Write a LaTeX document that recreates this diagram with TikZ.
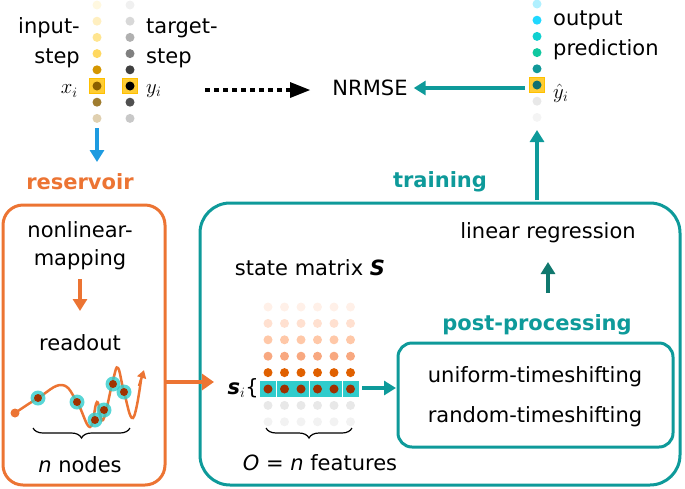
\documentclass[tikz,border=0pt]{standalone}
\usepackage{fontspec}
\setmainfont{DejaVu Sans}
\usetikzlibrary{arrows.meta,decorations.pathreplacing}
\definecolor{org}{HTML}{EC7433}
\definecolor{tl}{HTML}{0E9A9A}
\definecolor{gold}{HTML}{FFC000}
\definecolor{blu}{HTML}{1E9BE0}
\definecolor{dtl}{HTML}{10786E}
\definecolor{brn}{HTML}{A03200}
\definecolor{cyn}{HTML}{30CCCC}
\begin{document}
\begin{tikzpicture}[x=1pt,y=-1pt,
  txt/.style={font=\fontsize{21}{24}\selectfont, inner sep=0pt},
  dot/.style={circle, inner sep=0pt, minimum size=9pt},
  hl/.style={draw=gold, fill=gold!80, minimum size=15pt, inner sep=0pt},
  arr/.style={line width=4pt, -{Triangle[length=12pt,width=14pt]}}]
\useasboundingbox (0,0) rectangle (685,488);
% input column
\foreach \c [count=\i] in {FFF8E0,FFEFC0,FFE590,FFD860,D49600,8B6000,A07D30,E0D0B0}{
  \pgfmathsetmacro\yy{5+16.2*(\i-1)}
  \definecolor{cc}{HTML}{\c}
  \ifnum\i=6 \node[hl] at (97,\yy) {};\fi
  \node[dot,fill=cc] (x\i) at (97,\yy) {};}
\foreach \c [count=\i] in {F0F0F0,D8D8D8,B0B0B0,808080,404040,000000,505050,C8C8C8}{
  \pgfmathsetmacro\yy{5+16.2*(\i-1)}
  \definecolor{cc}{HTML}{\c}
  \ifnum\i=6 \node[hl] at (130,\yy) {};\fi
  \node[dot,fill=cc] (y\i) at (130,\yy) {};}
\foreach \c [count=\i] in {B0F0FF,20D8FF,10D0D0,10C8A0,109898,107070,E8E8E8,F4F4F4}{
  \pgfmathsetmacro\yy{4+16.2*(\i-1)}
  \definecolor{cc}{HTML}{\c}
  \ifnum\i=6 \node[hl] at (537,\yy) {};\fi
  \node[dot,fill=cc] (o\i) at (537,\yy) {};}
\node[txt,anchor=east] (l1) at (80,28) {input-};
\node[txt,anchor=east] (l2) at (80,58) {step};
\node[txt,anchor=east] (l3) at (78,91) {$x_i$};
\node[txt,anchor=west] (t1) at (146,28) {target-};
\node[txt,anchor=west] (t2) at (146,58) {step};
\node[txt,anchor=west] (t3) at (146,91) {$y_i$};
\node[txt,anchor=west] (p1) at (553,20) {output};
\node[txt,anchor=west] (p2) at (553,50) {prediction};
\node[txt,anchor=west] (p3) at (553,93) {$\hat{y}_i$};
\node[txt] (nrmse) at (370,88) {NRMSE};
\coordinate (d0) at (205,90);
\coordinate (d1) at (290,90);
\draw[line width=4pt, dash pattern=on 5pt off 4pt] (d0) -- (d1);
\fill (290,82) -- (310,90) -- (290,98) -- cycle;
\coordinate (o0) at (525,88);
\draw[arr,tl] (o0) -- ([xshift=6pt]nrmse.east);
% reservoir
\coordinate (b0) at (97,128);
\draw[arr,blu] (b0) -- (97,162);
\node[txt,font=\fontsize{21}{24}\selectfont\bfseries,text=org] (res) at (80,182) {reservoir};
\draw[org,line width=3pt,rounded corners=20pt] (3,205) rectangle (165,485);
\node[txt] (nl1) at (80,230) {nonlinear-};
\node[txt] (nl2) at (80,260) {mapping};
\node[txt] (ro) at (80,343) {readout};
\draw[arr,org] (80,279) -- (80,311);
\draw[org,line width=2.5pt] plot[smooth,tension=0.7] coordinates {(15,413) (38,398) (62,385) (77,402) (90,427) (97,402) (103,420) (113,380) (118,368) (124,392) (133,418) (141,380)};
\draw[org,line width=2.5pt,-{Triangle[length=8pt,width=9pt]}] (139,386) -- (144,370);
\fill[org] (15,413) circle (4.5);
\foreach \p in {(38,398),(77,402),(95,420),(104,410),(113,384),(124,392)}{
  \fill[cyn,opacity=0.8] \p circle (7.5);
  \fill[brn] \p circle (4);}
\draw[decorate,decoration={brace,mirror,amplitude=10pt},line width=1.2pt] (33,428) -- (130,428);
\node[txt] (nn) at (80,465) {\textit{n} nodes};
% training
\node[txt,font=\fontsize{21}{24}\selectfont\bfseries,text=tl] (tr) at (440,182) {training};
\draw[tl,line width=3pt,rounded corners=30pt] (200,203) rectangle (680,485);
\draw[arr,tl] (537,200) -- (537,130);
\node[txt] (lr) at (548,233) {linear regression};
\draw[arr,dtl] (548,293) -- (548,262);
\node[txt] (sm) at (310,268) {state matrix \textbf{\textit{S}}};
\node[txt,font=\fontsize{21}{24}\selectfont\bfseries,text=tl] (pp) at (537,325) {post-processing};
\draw[tl,line width=3pt,rounded corners=14pt] (398,343) rectangle (673,447);
\node[txt] (u) at (535,377) {uniform-timeshifting};
\node[txt] (r) at (535,417) {random-timeshifting};
% matrix
\foreach \c [count=\j] in {FFF0E8,FFE0D0,FFC8A8,F8A880,E06000,A03000,E8E8E8,F2F2F2}{
  \pgfmathsetmacro\yy{307+16.4*(\j-1)}
  \definecolor{cc}{HTML}{\c}
  \foreach \xx in {268,284.5,301,317.5,334,350.5}{
    \ifnum\j=6 \node[draw=cyn,fill=cyn,minimum size=15pt,inner sep=0pt] at (\xx,\yy) {};\fi
    \node[dot,fill=cc] at (\xx,\yy) {};}}
\node[txt,anchor=east] (si) at (259,388) {\textbf{\textit{s}}$_i$\{};
\draw[org,line width=4pt,-{Triangle[length=12pt,width=16pt]}] (165,382) -- (214,382);
\draw[arr,tl] (362,388) -- (396,388);
\draw[decorate,decoration={brace,mirror,amplitude=10pt},line width=1.2pt] (266,428) -- (352,428);
\node[txt] (of) at (320,463) {\textit{O} = \textit{n} features};
\end{tikzpicture}
\end{document}
